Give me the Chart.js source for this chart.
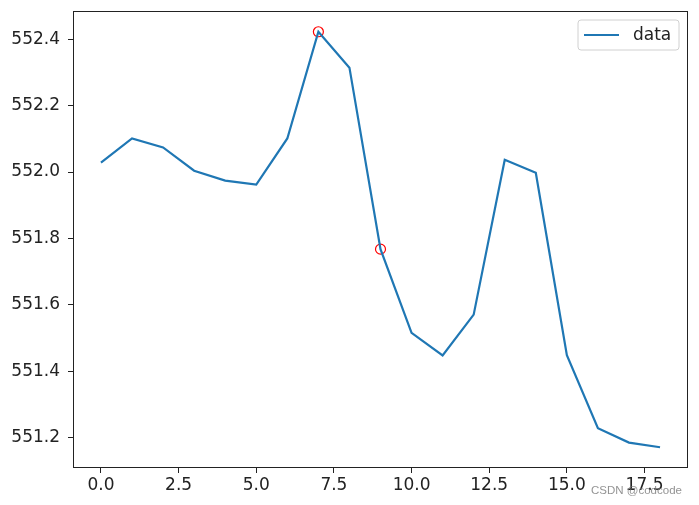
<!DOCTYPE html>
<html>
<head>
<meta charset="utf-8">
<script src="https://cdn.jsdelivr.net/npm/chart.js@4/dist/chart.umd.min.js"></script>
<style>
  html, body { margin: 0; padding: 0; background: #fff; }
  #wrap { width: 699px; height: 505px; position: relative; }
</style>
</head>
<body>
<div id="wrap"><canvas id="c"></canvas></div>
<script>
// ---- data ----
const xValues = [0, 1, 2, 3, 4, 5, 6, 7, 8, 9, 10, 11, 12, 13, 14, 15, 16, 17, 18];
const seriesValues = [552.028, 552.101, 552.074, 552.004, 551.974, 551.962, 552.101, 552.422, 552.314,
                      551.768, 551.516, 551.448, 551.571, 552.037, 551.998, 551.449, 551.229, 551.186, 551.172];
const markerIndices = [7, 9];
const xTickValues = [0, 2.5, 5, 7.5, 10, 12.5, 15, 17.5];
const yTickValues = [551.2, 551.4, 551.6, 551.8, 552.0, 552.2, 552.4];
const seriesLabel = 'data';
const watermark = 'CSDN @codcode';

const FONT = '"DejaVu Sans", sans-serif';
const lineColor = '#1f77b4';

const lineData = xValues.map((x, i) => ({ x: x, y: seriesValues[i] }));
const markerData = markerIndices.map(i => ({ x: xValues[i], y: seriesValues[i] }));

const yMinData = Math.min(...seriesValues), yMaxData = Math.max(...seriesValues);
const yPad = (yMaxData - yMinData) * 0.05;
const xPad = (xValues[xValues.length - 1] - xValues[0]) * 0.05;

const framePlugin = {
  id: 'frame',
  afterDraw(chart) {
    const { ctx, chartArea: a } = chart;
    ctx.save();
    ctx.strokeStyle = '#222';
    ctx.lineWidth = 1;
    ctx.strokeRect(Math.round(a.left) + 0.5, Math.round(a.top) + 0.5,
                   Math.round(a.right - a.left) - 1, Math.round(a.bottom - a.top) - 1);

    // legend
    const ds = chart.data.datasets[0];
    const bx = a.right - 110, by = a.top + 9, bw = 101, bh = 30, r = 3;
    ctx.beginPath();
    ctx.moveTo(bx + r, by);
    ctx.lineTo(bx + bw - r, by);
    ctx.quadraticCurveTo(bx + bw, by, bx + bw, by + r);
    ctx.lineTo(bx + bw, by + bh - r);
    ctx.quadraticCurveTo(bx + bw, by + bh, bx + bw - r, by + bh);
    ctx.lineTo(bx + r, by + bh);
    ctx.quadraticCurveTo(bx, by + bh, bx, by + bh - r);
    ctx.lineTo(bx, by + r);
    ctx.quadraticCurveTo(bx, by, bx + r, by);
    ctx.closePath();
    ctx.fillStyle = 'rgba(255,255,255,0.8)';
    ctx.fill();
    ctx.strokeStyle = '#d0d0d0';
    ctx.lineWidth = 1;
    ctx.stroke();
    ctx.beginPath();
    ctx.moveTo(bx + 6, by + 15);
    ctx.lineTo(bx + 41, by + 15);
    ctx.strokeStyle = ds.borderColor;
    ctx.lineWidth = 2.2;
    ctx.stroke();
    ctx.fillStyle = '#222';
    ctx.font = '17px ' + FONT;
    ctx.textBaseline = 'middle';
    ctx.textAlign = 'left';
    ctx.fillText(ds.label, bx + 55, by + 15.5);

    // watermark
    ctx.font = '11.5px "Liberation Sans", Arial, sans-serif';
    ctx.fillStyle = 'rgba(120,120,120,0.8)';
    ctx.textBaseline = 'middle';
    ctx.fillText(watermark, 591, 491);
    ctx.restore();
  }
};

new Chart(document.getElementById('c'), {
  type: 'line',
  data: {
    datasets: [
      {
        label: seriesLabel,
        data: lineData,
        borderColor: lineColor,
        borderWidth: 2.2,
        pointRadius: 0,
        tension: 0,
        fill: false
      },
      {
        label: 'marker',
        data: markerData,
        showLine: false,
        pointRadius: 5,
        pointStyle: 'circle',
        pointBorderColor: '#ff0000',
        pointBackgroundColor: 'rgba(0,0,0,0)',
        pointBorderWidth: 1.2,
        borderColor: '#ff0000'
      }
    ]
  },
  plugins: [framePlugin],
  options: {
    responsive: true,
    maintainAspectRatio: false,
    animation: false,
    layout: { padding: { left: 0, right: 11, top: 11, bottom: 0 } },
    plugins: {
      legend: { display: false },
      tooltip: { enabled: false }
    },
    scales: {
      x: {
        type: 'linear',
        min: xValues[0] - xPad,
        max: xValues[xValues.length - 1] + xPad,
        afterBuildTicks(scale) { scale.ticks = xTickValues.map(v => ({ value: v })); },
        afterFit(scale) { scale.height = 37; scale.paddingLeft = 0; scale.paddingRight = 0; },
        border: { display: false },
        grid: { drawOnChartArea: false, drawTicks: true, tickLength: 5, color: '#222', lineWidth: 1 },
        ticks: {
          color: '#222',
          font: { family: FONT, size: 17 },
          padding: 2,
          maxRotation: 0,
          autoSkip: false,
          callback: v => Number(v).toFixed(1)
        }
      },
      y: {
        type: 'linear',
        min: yMinData - yPad,
        max: yMaxData + yPad,
        afterBuildTicks(scale) { scale.ticks = yTickValues.map(v => ({ value: v })); },
        afterFit(scale) { scale.width = 73; scale.paddingTop = 0; scale.paddingBottom = 0; },
        border: { display: false },
        grid: { drawOnChartArea: false, drawTicks: true, tickLength: 5, color: '#222', lineWidth: 1 },
        ticks: {
          color: '#222',
          font: { family: FONT, size: 17 },
          padding: 8,
          autoSkip: false,
          callback: v => Number(v).toFixed(1)
        }
      }
    }
  }
});
</script>
</body>
</html>
